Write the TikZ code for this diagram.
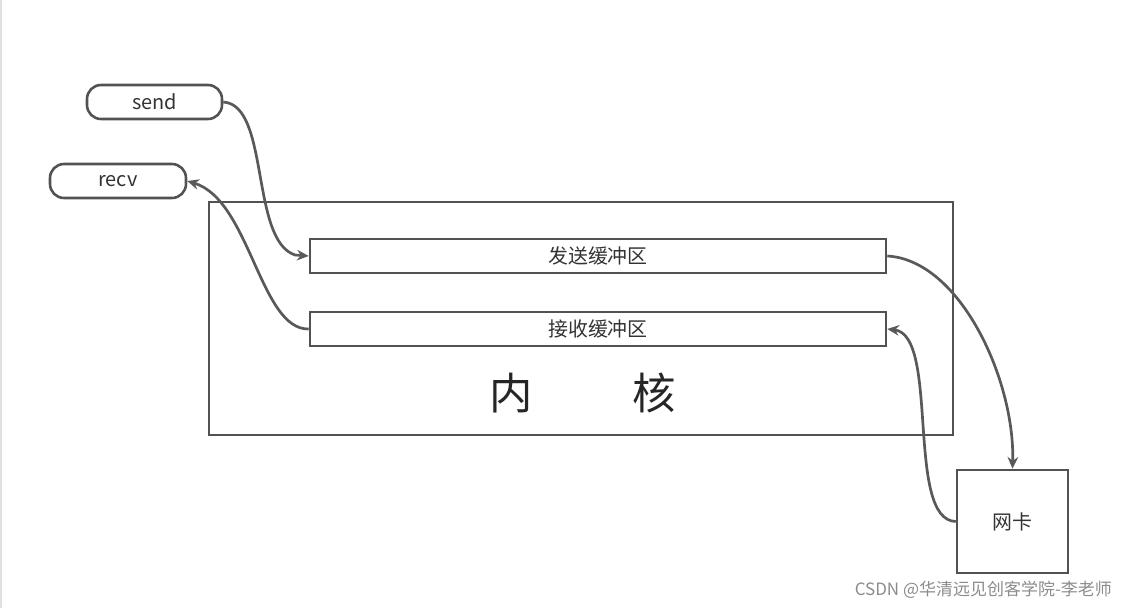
\documentclass[tikz,border=0pt]{standalone}
\usepackage{fontspec}
\setmainfont{Noto Sans CJK SC}
\usetikzlibrary{arrows.meta}
\begin{document}
\begin{tikzpicture}[x=0.03cm,y=-0.03cm,
  box/.style={draw=black!68,line width=2.2pt,inner sep=0pt,font=\fontsize{17}{17}\selectfont,text=black!80},
  pill/.style={box,rounded corners=12pt},
  conn/.style={draw=black!65,line width=2.3pt,-{Stealth[length=10pt,width=9pt]}}]
\useasboundingbox (0,0) rectangle (1130,608);
\draw[black!12,line width=1pt] (1,0) -- (1,608);
\node[pill,minimum width=135*0.03cm,minimum height=34*0.03cm] (send) at (154.5,102) {send};
\node[pill,minimum width=136*0.03cm,minimum height=34*0.03cm] (recv) at (118,181) {recv};
\node[box,minimum width=744*0.03cm,minimum height=233*0.03cm] (kern) at (581,318.5) {};
\node[box,minimum width=576*0.03cm,minimum height=34*0.03cm] (sbuf) at (598,256) {发送缓冲区};
\node[box,minimum width=576*0.03cm,minimum height=34*0.03cm] (rbuf) at (598,329) {接收缓冲区};
\node[text=black!85,font=\fontsize{37}{37}\selectfont] (ktext) at (583,393) {内\hspace{2.3em}核};
\node[box,minimum width=111*0.03cm,minimum height=103*0.03cm] (nic) at (1012.5,521.5) {网卡};
\node[text=black!45,font=\fontsize{14.5}{14.5}\selectfont,anchor=east] (wm) at (1116,590) {CSDN @华清远见创客学院-李老师};
\draw[conn] (send.east) .. controls (270,105) and (250,240) .. (295,255) -- (sbuf.west);
\draw[conn] (rbuf.west) .. controls (260,330) and (250,200) .. (recv.east);
\draw[conn] (sbuf.east) .. controls (960,260) and (1015,380) .. (nic.north);
\draw[conn] (nic.west) .. controls (905,520) and (940,335) .. (rbuf.east);
\end{tikzpicture}
\end{document}
